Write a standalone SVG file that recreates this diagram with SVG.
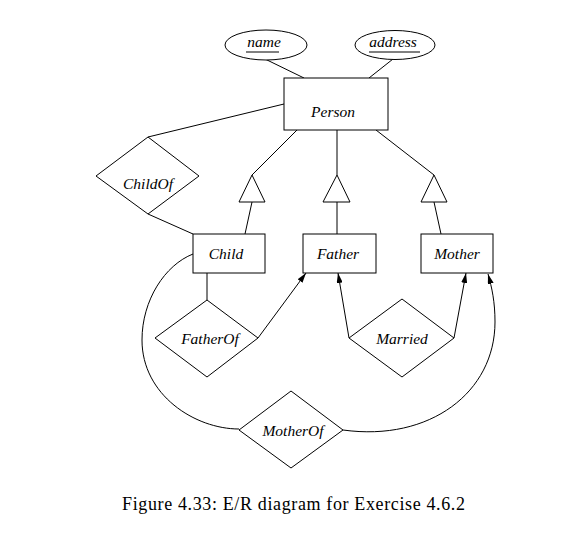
<svg xmlns="http://www.w3.org/2000/svg" width="569" height="560" viewBox="0 0 569 560">
<style>
.s{fill:#fff;stroke:#000;stroke-width:1}
.c{fill:none;stroke:#000;stroke-width:1}
.t{font-family:"Liberation Serif",serif;font-style:italic;font-size:15.5px;text-anchor:middle;fill:#000}
.cap{font-family:"Liberation Serif",serif;font-size:18px;fill:#000}
</style>
<defs>
<marker id="ar" markerWidth="11" markerHeight="6" refX="10" refY="3" orient="auto" markerUnits="userSpaceOnUse">
<path d="M0,0 L10,3 L0,6 Z" fill="#000"/>
</marker>
</defs>
<rect width="569" height="560" fill="#fff"/>
<g id="connectors">
<line class="c" x1="265" y1="59" x2="304" y2="78"/>
<line class="c" x1="393" y1="59" x2="369" y2="78"/>
<line class="c" x1="284" y1="104" x2="148" y2="137"/>
<line class="c" x1="148" y1="214" x2="193" y2="234"/>
<line class="c" x1="297" y1="130" x2="252" y2="175"/>
<line class="c" x1="252" y1="202" x2="245" y2="234"/>
<line class="c" x1="337" y1="130" x2="337" y2="175"/>
<line class="c" x1="337" y1="202" x2="337" y2="234"/>
<line class="c" x1="376" y1="130" x2="434" y2="175"/>
<line class="c" x1="434" y1="202" x2="441" y2="234"/>
<line class="c" x1="207" y1="273" x2="207" y2="300"/>
<line class="c" x1="258" y1="338" x2="306" y2="273" marker-end="url(#ar)"/>
<line class="c" x1="349" y1="338" x2="338" y2="273" marker-end="url(#ar)"/>
<line class="c" x1="454" y1="338" x2="466" y2="273" marker-end="url(#ar)"/>
<path class="c" d="M193,254 C165,265 142,300 142,340 C142,395 195,429 239,429"/>
<path class="c" d="M343,430 C430,442 495,392 495,322 C495,302 492,288 488,274" marker-end="url(#ar)"/>
</g>
<g id="name">
<ellipse class="s" cx="266" cy="45" rx="41" ry="15"/>
<text class="t" x="264" y="47">name</text>
<line class="c" x1="246" y1="52" x2="279" y2="52"/>
</g>
<g id="address">
<ellipse class="s" cx="395" cy="45" rx="40" ry="14.5"/>
<text class="t" x="393" y="47">address</text>
<line class="c" x1="369" y1="52" x2="420" y2="52"/>
</g>
<g id="Person">
<rect class="s" x="284" y="78" width="104" height="52"/>
<text class="t" x="333" y="117">Person</text>
</g>
<g id="ChildOf">
<polygon class="s" points="148,137 199,176 148,214 96,176"/>
<text class="t" x="148" y="189">ChildOf</text>
</g>
<g id="isa-child">
<polygon class="s" points="252,175 265,202 239,202"/>
</g>
<g id="isa-father">
<polygon class="s" points="337,175 350,202 323,202"/>
</g>
<g id="isa-mother">
<polygon class="s" points="434,175 447,202 421,202"/>
</g>
<g id="Child">
<rect class="s" x="193" y="234" width="72" height="39"/>
<text class="t" x="226" y="259">Child</text>
</g>
<g id="Father">
<rect class="s" x="303" y="234" width="73" height="39"/>
<text class="t" x="338" y="259">Father</text>
</g>
<g id="Mother">
<rect class="s" x="421" y="234" width="72" height="39"/>
<text class="t" x="457" y="259">Mother</text>
</g>
<g id="FatherOf">
<polygon class="s" points="207,300 258,338 207,377 155,338"/>
<text class="t" x="210" y="344">FatherOf</text>
</g>
<g id="Married">
<polygon class="s" points="402,299 454,338 402,377 349,338"/>
<text class="t" x="402" y="344">Married</text>
</g>
<g id="MotherOf">
<polygon class="s" points="291,391 343,430 291,468 239,430"/>
<text class="t" x="293" y="436">MotherOf</text>
</g>
<g id="caption">
<text class="cap" x="122" y="510" textLength="343" lengthAdjust="spacing">Figure 4.33: E/R diagram for Exercise 4.6.2</text>
</g>
</svg>
